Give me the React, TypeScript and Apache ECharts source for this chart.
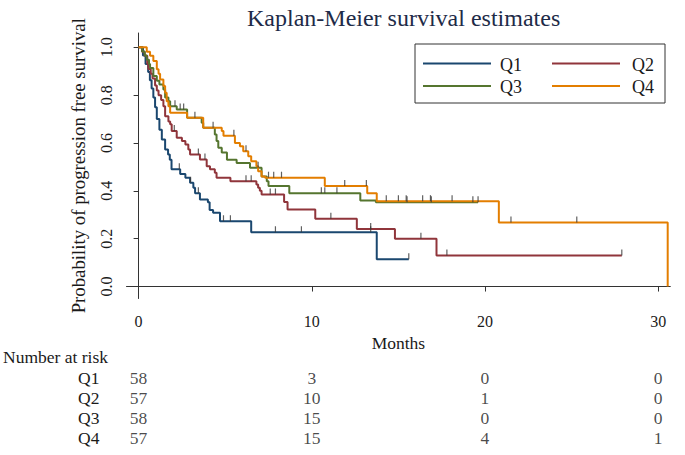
import React, { useEffect, useRef } from "react";
import * as echarts from "echarts";

const groups = ["Q1", "Q2", "Q3", "Q4"];
const colors = ["#1a476f", "#90353b", "#55752f", "#e37e00"];

// Kaplan-Meier step points (time in months, survival probability after the step)
const q1Times = [0, 0.25, 0.4, 0.55, 0.65, 0.75, 0.85, 0.95, 1.05, 1.2, 1.34, 1.53, 1.7, 1.8, 1.9, 2.4, 2.7, 2.97, 3.16, 3.26, 3.54, 4.0, 4.1, 4.3, 4.7, 6.5, 13.75, 15.6];
const q1Surv = [1.0, 0.966, 0.93, 0.897, 0.862, 0.828, 0.79, 0.75, 0.7, 0.655, 0.615, 0.573, 0.552, 0.53, 0.49, 0.47, 0.455, 0.434, 0.413, 0.39, 0.364, 0.352, 0.32, 0.308, 0.273, 0.227, 0.114, 0.114];
const q1Censor = [2.35, 3.0, 3.45, 4.9, 5.3, 7.9, 9.4, 13.4, 15.6];

const q2Times = [0, 0.2, 0.35, 0.5, 0.56, 0.7, 0.8, 0.95, 1.05, 1.15, 1.3, 1.43, 1.53, 1.72, 1.82, 1.91, 2.2, 2.5, 2.7, 2.87, 2.97, 3.54, 3.93, 4.12, 4.4, 4.5, 5.3, 6.8, 6.9, 7.0, 7.1, 8.4, 8.6, 10.2, 12.6, 14.8, 17.2, 27.9];
const q2Surv = [1.0, 0.982, 0.965, 0.93, 0.91, 0.89, 0.87, 0.84, 0.82, 0.8, 0.78, 0.754, 0.712, 0.69, 0.678, 0.65, 0.622, 0.608, 0.594, 0.573, 0.552, 0.531, 0.503, 0.49, 0.476, 0.455, 0.44, 0.427, 0.413, 0.4, 0.385, 0.353, 0.322, 0.283, 0.241, 0.2, 0.13, 0.13];
const q2Censor = [2.06, 3.45, 3.83, 6.2, 6.5, 7.6, 7.9, 11.1, 13.4, 16.3, 17.8, 27.9];

const q3Times = [0, 0.2, 0.35, 0.47, 0.6, 0.66, 0.85, 1.05, 1.2, 1.43, 1.53, 1.72, 1.82, 2.2, 2.8, 3.64, 3.73, 4.4, 4.5, 4.6, 4.8, 5.1, 5.66, 6.43, 7.1, 7.4, 7.5, 8.7, 12.8, 13.7, 19.6];
const q3Surv = [1.0, 0.983, 0.966, 0.948, 0.93, 0.914, 0.88, 0.86, 0.845, 0.824, 0.79, 0.775, 0.754, 0.74, 0.706, 0.685, 0.664, 0.636, 0.608, 0.58, 0.56, 0.53, 0.517, 0.497, 0.46, 0.44, 0.42, 0.39, 0.36, 0.352, 0.352];
const q3Censor = [2.1, 2.4, 2.6, 3.25, 4.3, 6.9, 10.55, 10.75, 11.45, 15.5, 16.9, 19.3, 19.6];

const q4Times = [0, 0.47, 0.66, 0.85, 1.05, 1.15, 1.24, 1.43, 1.53, 1.62, 1.72, 1.82, 2.8, 3.73, 4.8, 4.9, 5.56, 5.85, 6.04, 6.33, 6.5, 6.8, 6.9, 7.1, 7.3, 10.75, 13.2, 13.75, 20.8, 30.55];
const q4Surv = [1.0, 0.982, 0.965, 0.943, 0.908, 0.89, 0.866, 0.838, 0.81, 0.775, 0.754, 0.727, 0.706, 0.664, 0.65, 0.63, 0.6, 0.587, 0.566, 0.545, 0.524, 0.503, 0.482, 0.46, 0.455, 0.42, 0.39, 0.357, 0.268, 0.0];
const q4Censor = [5.5, 6.2, 7.5, 7.8, 8.25, 11.9, 13.15, 14.3, 15.0, 15.45, 16.4, 16.85, 18.1, 21.5, 25.3];

const allTimes = [q1Times, q2Times, q3Times, q4Times];
const allSurv = [q1Surv, q2Surv, q3Surv, q4Surv];
const allCensor = [q1Censor, q2Censor, q3Censor, q4Censor];

// Number at risk
const riskTimes = [0, 10, 20, 30];
const riskQ1 = [58, 3, 0, 0];
const riskQ2 = [57, 10, 1, 0];
const riskQ3 = [58, 15, 0, 0];
const riskQ4 = [57, 15, 4, 1];
const allRisk = [riskQ1, riskQ2, riskQ3, riskQ4];

const xTicks = [0, 10, 20, 30];
const yTicks = [0, 0.2, 0.4, 0.6, 0.8, 1.0];

const SERIF = "'Liberation Serif', 'Times New Roman', serif";

function survAt(times: number[], surv: number[], t: number): number {
  let v = surv[0];
  for (let i = 0; i < times.length; i++) {
    if (times[i] <= t) v = surv[i];
  }
  return v;
}

export default function App() {
  const ref = useRef<HTMLDivElement>(null);
  useEffect(() => {
    if (!ref.current) return;
    const chart = echarts.init(ref.current, undefined, { renderer: "svg" });

    const lineSeries = groups.map((g, i) => ({
      name: g,
      type: "line",
      step: "end",
      xAxisIndex: 0,
      yAxisIndex: 0,
      showSymbol: false,
      symbol: "none",
      lineStyle: { color: colors[i], width: 2 },
      itemStyle: { color: colors[i] },
      data: allTimes[i].map((t, j) => [t, allSurv[i][j]]),
      z: 2 + i,
      silent: true,
    }));

    const censorSeries = groups.map((g, i) => ({
      name: g + " censored",
      type: "scatter",
      xAxisIndex: 0,
      yAxisIndex: 0,
      symbol: "rect",
      symbolSize: [1.2, 6],
      symbolOffset: [0, -3],
      itemStyle: { color: "#3a3a3a" },
      data: allCensor[i].map((t) => [t, survAt(allTimes[i], allSurv[i], t)]),
      z: 10,
      silent: true,
    }));

    const riskSeries = groups.map((g, i) => ({
      name: g + " at risk",
      type: "scatter",
      xAxisIndex: 1,
      yAxisIndex: 1,
      symbolSize: 1,
      itemStyle: { color: "rgba(0,0,0,0)" },
      label: {
        show: true,
        position: "inside",
        formatter: (p: any) => String(p.value[2]),
        fontFamily: SERIF,
        fontSize: 17.5,
        color: "#1a1a1a",
      },
      data: riskTimes.map((t, j) => [t, g, allRisk[i][j]]),
      silent: true,
    }));

    const legendGraphics: any[] = [
      {
        type: "rect",
        shape: { x: 415, y: 44, width: 250, height: 59 },
        style: { fill: "#fff", stroke: "#333", lineWidth: 1 },
        z: 50,
      },
    ];
    groups.forEach((g, i) => {
      const col = i % 2;
      const row = Math.floor(i / 2);
      const lx = col === 0 ? 423 : 552;
      const ly = row === 0 ? 63.5 : 86;
      legendGraphics.push({
        type: "line",
        shape: { x1: lx, y1: ly, x2: lx + 68, y2: ly },
        style: { stroke: colors[i], lineWidth: 2 },
        z: 51,
      });
      legendGraphics.push({
        type: "text",
        x: col === 0 ? 500 : 632,
        y: ly + 1,
        style: {
          text: g,
          font: `18px ${SERIF}`,
          fill: "#1a1a1a",
          textAlign: "left",
          textVerticalAlign: "middle",
        },
        z: 51,
      });
    });

    chart.setOption({
      animation: false,
      backgroundColor: "#fff",
      title: {
        text: "Kaplan-Meier survival estimates",
        left: 242,
        top: 1,
        textStyle: { fontFamily: SERIF, fontSize: 24, fontWeight: "normal", color: "#1e2b48" },
      },
      grid: [
        { left: 126.5, top: 33, width: 543.8, height: 265.5 },
        { left: 126.5, top: 368, width: 543.8, height: 80 },
      ],
      xAxis: [
        {
          type: "value",
          gridIndex: 0,
          min: -0.7,
          max: 30.7,
          name: "Months",
          nameLocation: "middle",
          nameGap: 26,
          nameTextStyle: { fontFamily: SERIF, fontSize: 17.5, color: "#1a1a1a" },
          axisLine: { show: true, lineStyle: { color: "#333", width: 1 } },
          axisTick: { show: true, length: 5, customValues: xTicks, lineStyle: { color: "#333" } },
          axisLabel: { customValues: xTicks, fontFamily: SERIF, fontSize: 16, color: "#1a1a1a", margin: 15 },
          splitLine: { show: false },
        },
        {
          type: "value",
          gridIndex: 1,
          min: -0.7,
          max: 30.7,
          show: false,
        },
      ],
      yAxis: [
        {
          type: "value",
          gridIndex: 0,
          min: -0.05,
          max: 1.06,
          name: "Probability of progression free survival",
          nameLocation: "middle",
          nameGap: 39,
          nameTextStyle: { fontFamily: SERIF, fontSize: 18.8, color: "#1a1a1a" },
          axisLine: { show: true, lineStyle: { color: "#333", width: 1 } },
          axisTick: { show: true, length: 5, customValues: yTicks, lineStyle: { color: "#333" } },
          axisLabel: {
            customValues: yTicks,
            rotate: 90,
            fontFamily: SERIF,
            fontSize: 16,
            color: "#1a1a1a",
            margin: 12,
            formatter: (v: number) => v.toFixed(1),
          },
          splitLine: { show: false },
        },
        {
          type: "category",
          gridIndex: 1,
          data: groups,
          inverse: true,
          axisLine: { show: false },
          axisTick: { show: false },
          axisLabel: { interval: 0, fontFamily: SERIF, fontSize: 17.5, color: "#1a1a1a", margin: 27 },
        },
      ],
      graphic: [
        {
          type: "text",
          x: 3,
          y: 357,
          style: {
            text: "Number at risk",
            font: `17.5px ${SERIF}`,
            fill: "#1a1a1a",
            textAlign: "left",
            textVerticalAlign: "middle",
          },
        },
        ...legendGraphics,
      ],
      series: [...lineSeries, ...censorSeries, ...riskSeries],
    });

    return () => chart.dispose();
  }, []);

  return (
    <div
      ref={ref}
      style={{ position: "fixed", left: 0, top: 0, width: 685, height: 455, background: "#fff" }}
    />
  );
}
